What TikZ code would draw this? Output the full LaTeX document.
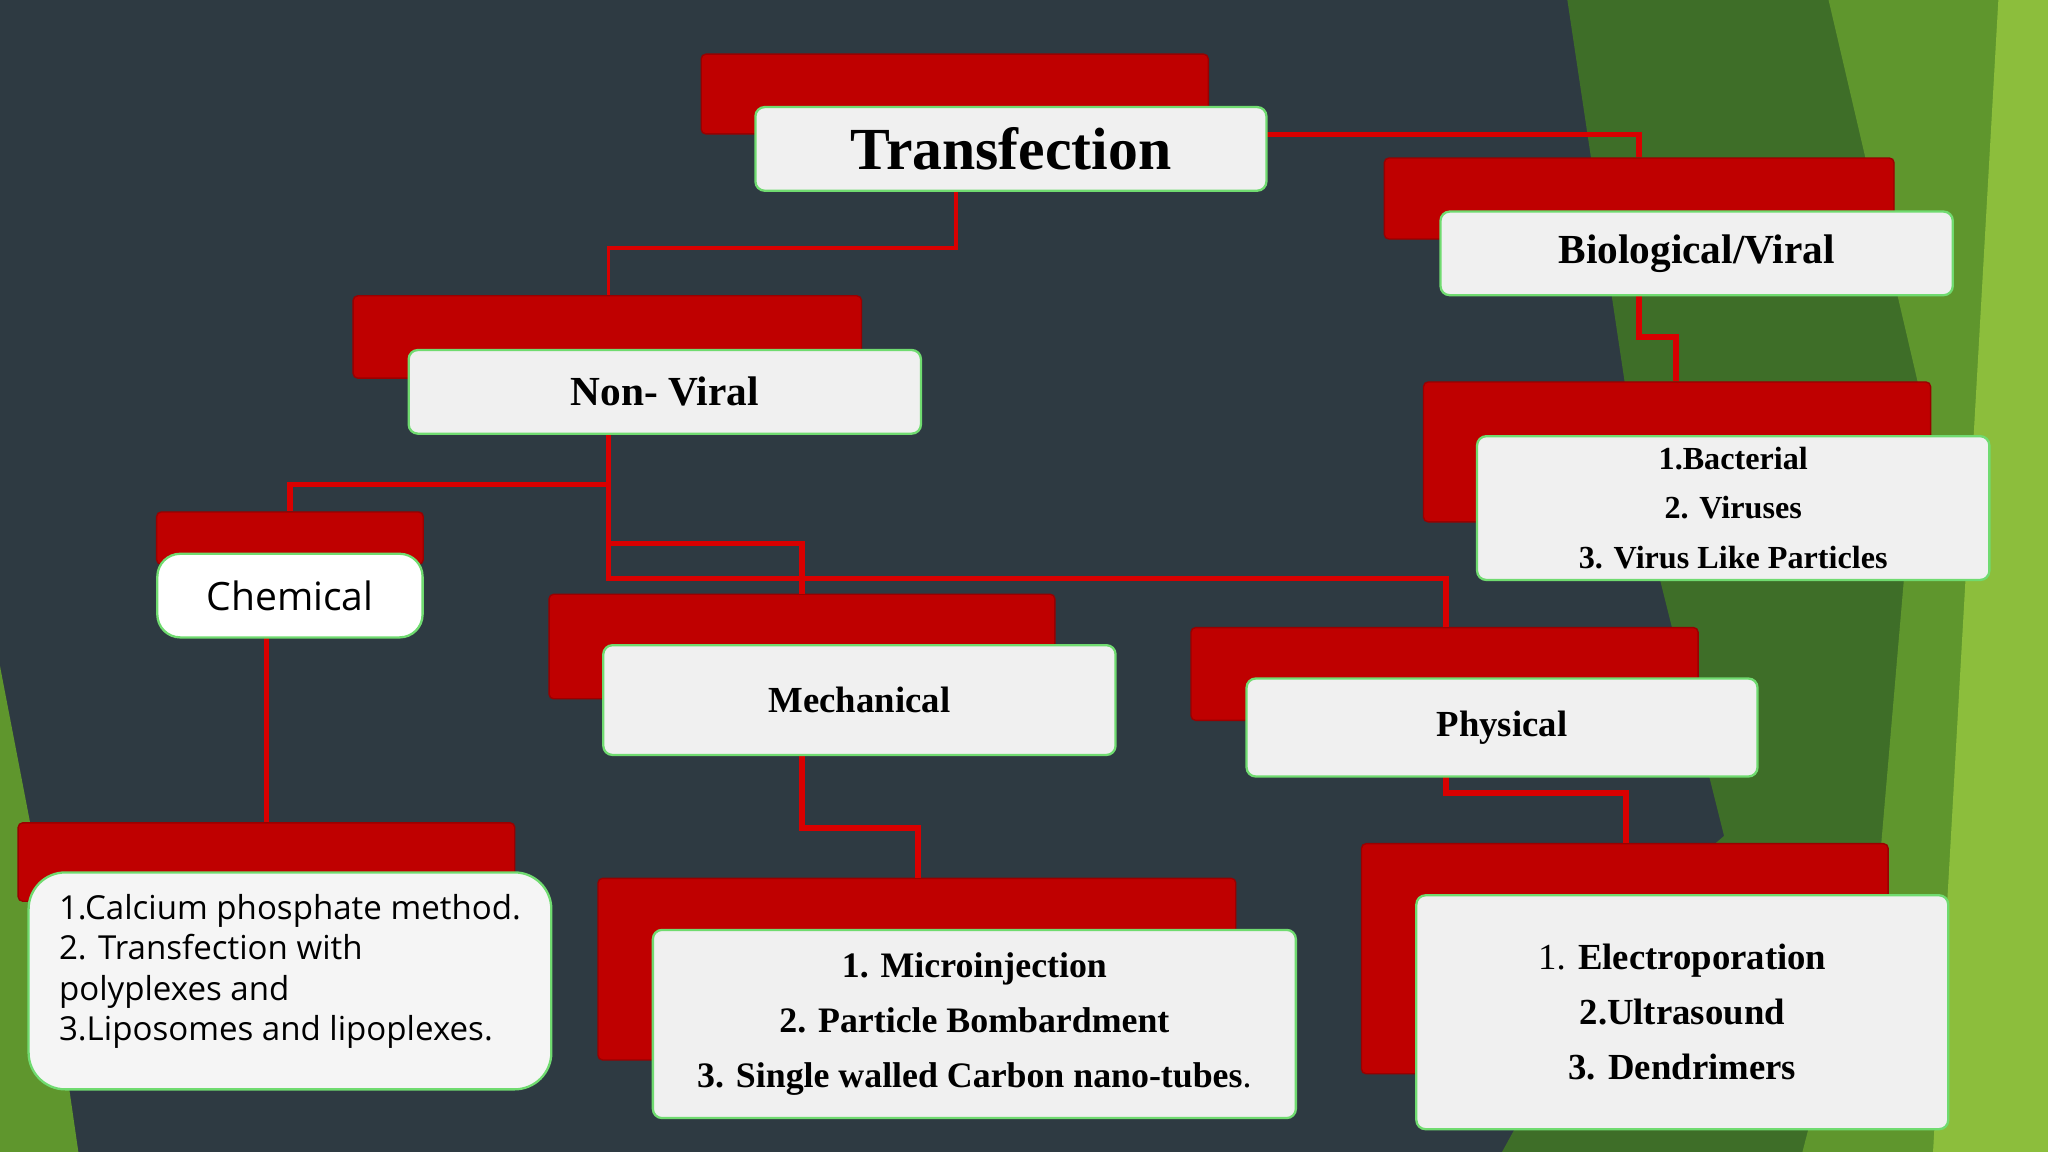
\documentclass[tikz,border=0pt]{standalone}
\usepackage{fontspec}
\setmainfont{Liberation Serif}
\newfontfamily\sansf{Open Sans}
\definecolor{g1}{RGB}{62,110,40}
\definecolor{g2}{RGB}{95,150,45}
\definecolor{g3}{RGB}{140,190,60}
\begin{document}
\begin{tikzpicture}[x=0.01cm,y=-0.01cm,
 redbox/.style={fill=red!75!black, draw=red!60!black, line width=0.3pt, rounded corners=1pt, inner sep=0},
 wbox/.style={fill=gray!12, draw=green!60!gray!70, line width=0.5pt, rounded corners=2pt, inner sep=0, align=center, font=\bfseries},
 conn/.style={draw=red!85!black, line width=1.2pt}]
\fill[fill={rgb,255:red,46;green,58;blue,66}] (0,0) rectangle (1568,882);
\useasboundingbox (0,0) rectangle (1568,882);
% green decorations
\fill[g1] (1200,0) -- (1568,0) -- (1568,882) -- (1150,882) -- (1250,700) -- (1320,640) -- (1260,400) -- cycle;
\fill[g2] (1400,0) -- (1568,0) -- (1568,882) -- (1380,882) -- (1440,650) -- (1470,300) -- cycle;
\fill[g3] (1530,0) -- (1568,0) -- (1568,882) -- (1480,882) -- cycle;
\fill[g2] (0,510) -- (25,640) -- (60,882) -- (0,882) -- cycle;
% red back boxes
\node[redbox,minimum width=3.88cm,minimum height=0.61cm] (tr) at (731,72) {};
\node[redbox,minimum width=3.90cm,minimum height=0.62cm] (br) at (1255,152) {};
\node[redbox,minimum width=3.89cm,minimum height=0.63cm] (nr) at (465,258) {};
\node[redbox,minimum width=3.88cm,minimum height=1.07cm] (lr) at (1284,346) {};
\node[redbox,minimum width=2.04cm,minimum height=0.40cm] (cr) at (222,412) {};
\node[redbox,minimum width=3.87cm,minimum height=0.80cm] (mr) at (614,495) {};
\node[redbox,minimum width=3.88cm,minimum height=0.71cm] (pr) at (1106,516) {};
\node[redbox,minimum width=3.80cm,minimum height=0.60cm] (clr) at (204,660) {};
\node[redbox,minimum width=4.88cm,minimum height=1.39cm] (mlr) at (702,742) {};
\node[redbox,minimum width=4.03cm,minimum height=1.76cm] (plr) at (1244,734) {};
% connectors
\draw[conn,line width=0.8pt] (732,146) -- (732,190) -- (466,190) -- (nr.north -| 466,0);
\draw[conn] (970,103) -- (1255,103) -- (br.north);
\draw[conn] (1255,226) -- (1255,258) -- (1283,258) -- (lr.north -| 1283,0);
\draw[conn] (466,332) -- (466,443) -- (1107,443) -- (pr.north -| 1107,0);
\draw[conn] (466,371) -- (222,371) -- (cr.north);
\draw[conn] (466,416) -- (614,416) -- (mr.north);
\draw[conn] (204,488) -- (clr.north -| 204,0);
\draw[conn] (614,578) -- (614,634) -- (703,634) -- (mlr.north -| 703,0);
\draw[conn] (1107,595) -- (1107,607) -- (1245,607) -- (plr.north -| 1245,0);
% white boxes
\node[wbox,minimum width=3.91cm,minimum height=0.64cm,font=\bfseries\fontsize{13}{15}\selectfont] (t) at (774,114) {Transfection};
\node[wbox,minimum width=3.92cm,minimum height=0.64cm,font=\bfseries\fontsize{9}{11}\selectfont] (b) at (1299,194) {Biological/Viral};
\node[wbox,minimum width=3.92cm,minimum height=0.64cm,font=\bfseries\fontsize{9}{11}\selectfont] (n) at (509,300) {Non- Viral};
\node[wbox,minimum width=3.92cm,minimum height=1.10cm,font=\bfseries\fontsize{7}{10.8}\selectfont] (l) at (1327,389) {1.Bacterial\\2. Viruses\\3. Virus Like Particles};
\node[wbox,fill=white,rounded corners=5pt,minimum width=2.03cm,minimum height=0.64cm,font=\sansf\fontsize{8.5}{10}\selectfont] (c) at (222,456) {Chemical};
\node[wbox,minimum width=3.92cm,minimum height=0.84cm,font=\bfseries\fontsize{8}{10}\selectfont] (m) at (658,536) {Mechanical};
\node[wbox,minimum width=3.91cm,minimum height=0.75cm,font=\bfseries\fontsize{8}{10}\selectfont] (p) at (1150,557) {Physical};
\node[wbox,fill=gray!8,rounded corners=8pt,minimum width=4.00cm,minimum height=1.66cm,align=left,font=\sansf\fontsize{7.2}{8.8}\selectfont] (cl) at (222,751) {1.Calcium phosphate method.\\2. Transfection with\\polyplexes and\\3.Liposomes and lipoplexes.\\[-3pt]};
\node[wbox,minimum width=4.92cm,minimum height=1.44cm,font=\bfseries\fontsize{7.8}{12}\selectfont] (ml) at (746,784) {1. Microinjection\\2. Particle Bombardment\\3. Single walled Carbon nano-tubes\textmd{.}};
\node[wbox,minimum width=4.07cm,minimum height=1.79cm,font=\bfseries\fontsize{8}{12}\selectfont] (pl) at (1288,775) {\textmd{1.} Electroporation\\2.Ultrasound\\3. Dendrimers};
\end{tikzpicture}
\end{document}
